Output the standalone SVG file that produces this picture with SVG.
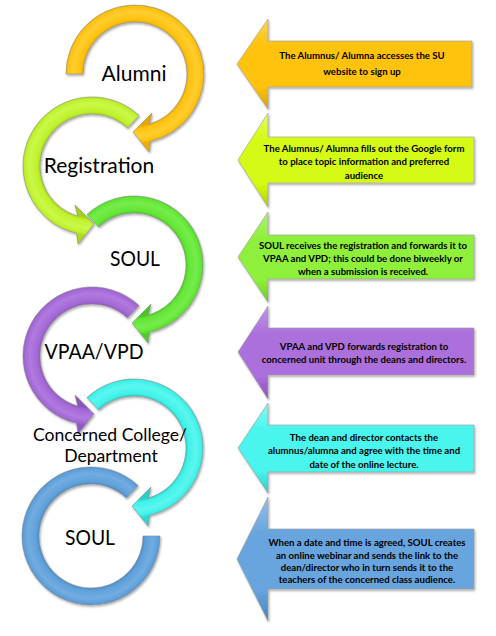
<svg xmlns="http://www.w3.org/2000/svg" width="496" height="636" viewBox="0 0 496 636">
<style>
.lbl{font-family:"Lato","Liberation Sans",sans-serif;font-size:21px;fill:#000;text-anchor:middle}
.lbs{font-family:"Lato","Liberation Sans",sans-serif;font-size:17.6px;fill:#000;text-anchor:middle}
.bt{font-family:"Lato","Liberation Sans",sans-serif;font-size:9.6px;font-weight:bold;fill:#000;text-anchor:middle}
.arc{stroke:#8c8c8c;stroke-width:0.6;filter:url(#sh)}
.box{stroke:#9a9a9a;stroke-width:0.6;filter:url(#sh)}
</style>
<defs>
<filter id="sh" x="-15%" y="-15%" width="135%" height="135%">
<feDropShadow dx="1" dy="1.5" stdDeviation="1.1" flood-color="#000" flood-opacity="0.35"/>
</filter>
<radialGradient id="gY" gradientUnits="userSpaceOnUse" cx="135" cy="74" r="78"><stop offset="0.66" stop-color="#E0A800"/><stop offset="0.70" stop-color="#FFC20E"/><stop offset="0.80" stop-color="#FFCD30"/><stop offset="0.86" stop-color="#FFC20E"/><stop offset="0.9" stop-color="#E8AE00"/></radialGradient>
<radialGradient id="gR" gradientUnits="userSpaceOnUse" cx="92" cy="166" r="78"><stop offset="0.66" stop-color="#A2D218"/><stop offset="0.70" stop-color="#BEF22A"/><stop offset="0.80" stop-color="#CBF84A"/><stop offset="0.86" stop-color="#BEF22A"/><stop offset="0.9" stop-color="#A8DA1C"/></radialGradient>
<radialGradient id="gG" gradientUnits="userSpaceOnUse" cx="134" cy="265" r="78"><stop offset="0.66" stop-color="#4CC426"/><stop offset="0.70" stop-color="#62E634"/><stop offset="0.80" stop-color="#76EC4C"/><stop offset="0.86" stop-color="#62E634"/><stop offset="0.9" stop-color="#4ECC28"/></radialGradient>
<radialGradient id="gP" gradientUnits="userSpaceOnUse" cx="92" cy="356" r="78"><stop offset="0.66" stop-color="#8A56BC"/><stop offset="0.70" stop-color="#A468D6"/><stop offset="0.80" stop-color="#B07ADE"/><stop offset="0.86" stop-color="#A468D6"/><stop offset="0.9" stop-color="#9058C2"/></radialGradient>
<radialGradient id="gC" gradientUnits="userSpaceOnUse" cx="134" cy="448" r="78"><stop offset="0.66" stop-color="#26CEC6"/><stop offset="0.70" stop-color="#3FF2E8"/><stop offset="0.80" stop-color="#5CF6EE"/><stop offset="0.86" stop-color="#3FF2E8"/><stop offset="0.9" stop-color="#2ADAD2"/></radialGradient>
<radialGradient id="gB" gradientUnits="userSpaceOnUse" cx="91" cy="536" r="78"><stop offset="0.66" stop-color="#4886C0"/><stop offset="0.70" stop-color="#5FA0DA"/><stop offset="0.80" stop-color="#72ACE0"/><stop offset="0.86" stop-color="#5FA0DA"/><stop offset="0.9" stop-color="#4C8AC6"/></radialGradient>
<linearGradient id="b1" x1="0" y1="0" x2="0" y2="1"><stop offset="0" stop-color="#FFD64A"/><stop offset="0.3" stop-color="#FFC20E"/><stop offset="0.75" stop-color="#FFC20E"/><stop offset="1" stop-color="#DCA400"/></linearGradient>
<linearGradient id="b2" x1="0" y1="0" x2="0" y2="1"><stop offset="0" stop-color="#E4FF5A"/><stop offset="0.3" stop-color="#D4FA12"/><stop offset="0.75" stop-color="#D4FA12"/><stop offset="1" stop-color="#AED400"/></linearGradient>
<linearGradient id="b3" x1="0" y1="0" x2="0" y2="1"><stop offset="0" stop-color="#ABF478"/><stop offset="0.3" stop-color="#8EF03A"/><stop offset="0.75" stop-color="#8EF03A"/><stop offset="1" stop-color="#6ECA22"/></linearGradient>
<linearGradient id="b4" x1="0" y1="0" x2="0" y2="1"><stop offset="0" stop-color="#C196E8"/><stop offset="0.3" stop-color="#AC6FDC"/><stop offset="0.75" stop-color="#AC6FDC"/><stop offset="1" stop-color="#8C52BE"/></linearGradient>
<linearGradient id="b5" x1="0" y1="0" x2="0" y2="1"><stop offset="0" stop-color="#86FAF4"/><stop offset="0.3" stop-color="#48F5EC"/><stop offset="0.75" stop-color="#48F5EC"/><stop offset="1" stop-color="#28D0C8"/></linearGradient>
<linearGradient id="b6" x1="0" y1="0" x2="0" y2="1"><stop offset="0" stop-color="#92C0EC"/><stop offset="0.3" stop-color="#67A4DD"/><stop offset="0.75" stop-color="#67A4DD"/><stop offset="1" stop-color="#4884C0"/></linearGradient>
</defs>
<rect width="496" height="636" fill="#fff"/>

<g id="connectors">
<path id="arc-alumni" class="arc" fill="url(#gY)" d="M66,74 A69,69 0 1 1 150.5,141.2 L149,152 L133,132 L152,113 L149.3,124 A52,52 0 1 0 83,74 Z"/>
<path id="arc-registration" class="arc" fill="url(#gR)" d="M139.06,115.53 A69,69 0 1 0 76.5,233.2 L78,244 L94,224 L75,205 L77.7,216 A52,52 0 1 1 127.46,127.97 Z"/>
<path id="arc-soul1" class="arc" fill="url(#gG)" d="M86.94,214.53 A69,69 0 1 1 149.5,332.2 L148,343 L132,323 L151,304 L148.3,315 A52,52 0 1 0 98.54,226.97 Z"/>
<path id="arc-vpaa" class="arc" fill="url(#gP)" d="M139.06,305.53 A69,69 0 1 0 76.5,423.2 L78,434 L94,414 L75,395 L77.7,406 A52,52 0 1 1 127.46,317.97 Z"/>
<path id="arc-college" class="arc" fill="url(#gC)" d="M86.94,397.53 A69,69 0 1 1 149.5,515.2 L148,526 L132,506 L151,487 L148.3,498 A52,52 0 1 0 98.54,409.97 Z"/>
<path id="arc-soul2" class="arc" fill="url(#gB)" d="M138.06,485.53 A69,69 0 1 0 160,536 L143,536 A52,52 0 1 1 126.46,497.97 Z"/>
</g>

<g id="node-alumni"><text class="lbl" x="134" y="81">Alumni</text></g>
<g id="node-registration"><text class="lbl" x="99" y="173">Registration</text></g>
<g id="node-soul1"><text class="lbl" x="135" y="266" textLength="50" lengthAdjust="spacingAndGlyphs">SOUL</text></g>
<g id="node-vpaa"><text class="lbl" x="94" y="359" textLength="99" lengthAdjust="spacingAndGlyphs">VPAA/VPD</text></g>
<g id="node-college"><text class="lbs" x="110" y="441">Concerned College/</text><text class="lbs" x="111" y="462">Department</text></g>
<g id="node-soul2"><text class="lbl" x="90" y="545" textLength="50" lengthAdjust="spacingAndGlyphs">SOUL</text></g>

<g id="step1">
<path class="box" fill="url(#b1)" d="M237,64 L268,19 L268,41 L472,41 L472,87 L268,87 L268,109 Z"/>
<text class="bt" x="362" y="59.2">The Alumnus/ Alumna accesses the SU</text>
<text class="bt" x="362" y="74.5">website to sign up</text>
</g>
<g id="step2">
<path class="box" fill="url(#b2)" d="M238,160 L268,113 L268,137 L474,137 L474,183 L268,183 L268,207 Z"/>
<text class="bt" x="364" y="151.8">The Alumnus/ Alumna fills out the Google form</text>
<text class="bt" x="364" y="165.2">to place topic information and preferred</text>
<text class="bt" x="364" y="178.5">audience</text>
</g>
<g id="step3">
<path class="box" fill="url(#b3)" d="M238,257 L268,212 L268,235 L474,235 L474,279 L268,279 L268,302 Z"/>
<text class="bt" x="363" y="248.5">SOUL receives the registration and forwards it to</text>
<text class="bt" x="363" y="261.8">VPAA and VPD; this could be done biweekly or</text>
<text class="bt" x="363" y="275.2">when a submission is received.</text>
</g>
<g id="step4">
<path class="box" fill="url(#b4)" d="M238,352 L268,306 L268,328 L474,328 L474,375 L268,375 L268,399 Z"/>
<text class="bt" x="364" y="349.5">VPAA and VPD forwards registration to</text>
<text class="bt" x="364" y="362.8">concerned unit through the deans and directors.</text>
</g>
<g id="step5">
<path class="box" fill="url(#b5)" d="M238,448 L268,403 L268,425 L474,425 L474,472 L268,472 L268,493 Z"/>
<text class="bt" x="364" y="440.8">The dean and director contacts the</text>
<text class="bt" x="364" y="454.2">alumnus/alumna and agree with the time and</text>
<text class="bt" x="364" y="467.5">date of the online lecture.</text>
</g>
<g id="step6">
<path class="box" fill="url(#b6)" d="M237,559 L268,497 L268,529 L474,529 L474,589 L268,589 L268,621 Z"/>
<text class="bt" x="367" y="546.2">When a date and time is agreed, SOUL creates</text>
<text class="bt" x="367" y="558.5">an online webinar and sends the link to the</text>
<text class="bt" x="367" y="570.8">dean/director who in turn sends it to the</text>
<text class="bt" x="367" y="582.8">teachers of the concerned class audience.</text>
</g>
</svg>
